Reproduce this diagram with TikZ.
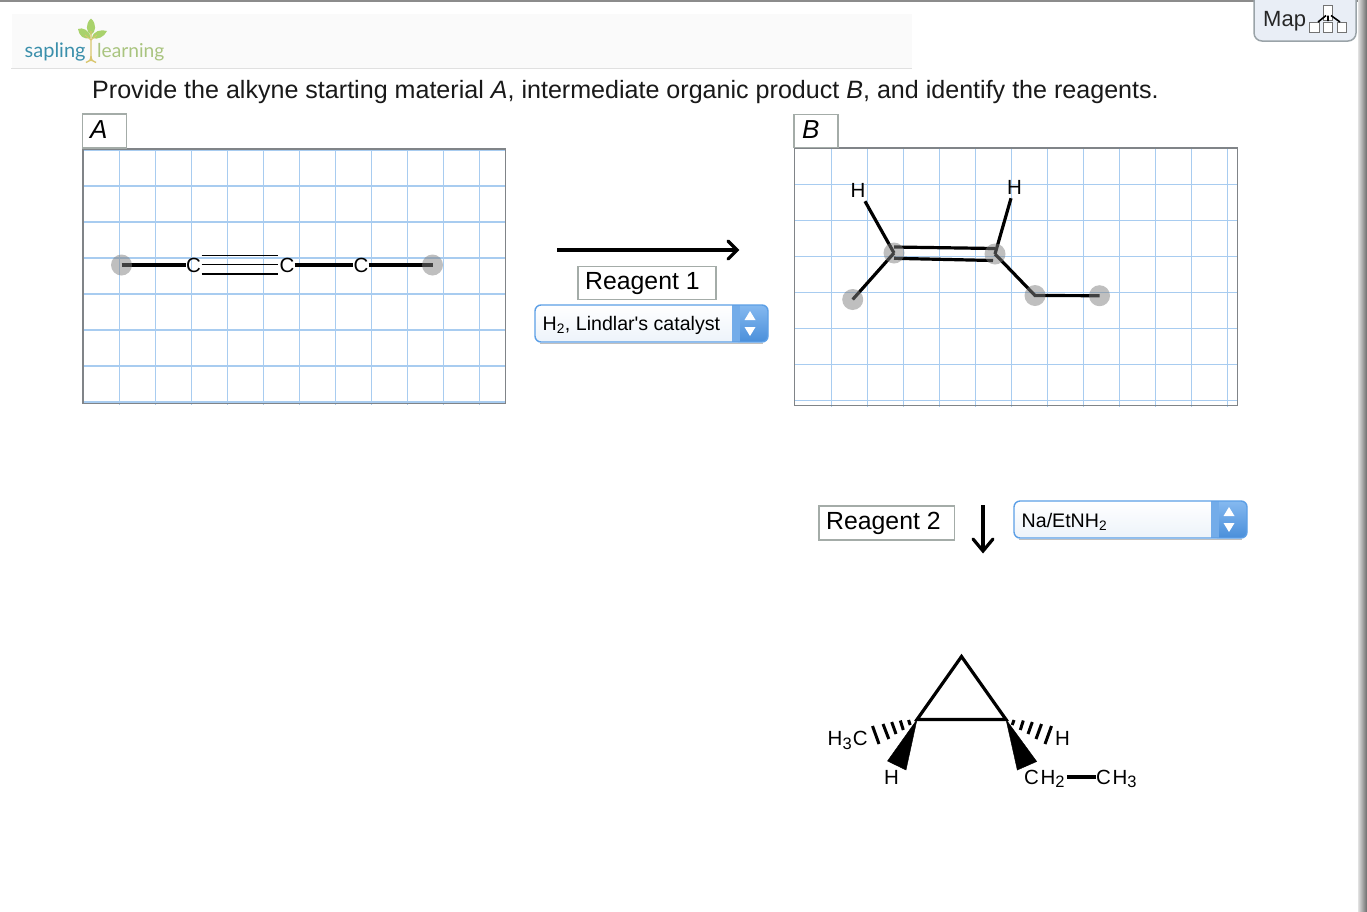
\documentclass[tikz,border=0pt]{standalone}
\usepackage{fontspec}
\setmainfont{Liberation Sans}
\newfontfamily\logofont{Lato}
\usetikzlibrary{calc}
\definecolor{gridblue}{HTML}{A8CCF0}
\definecolor{framegrey}{HTML}{808488}
\definecolor{tabedge}{HTML}{A4ACA8}
\definecolor{mapedge}{HTML}{9AA3A8}
\definecolor{mapfill}{HTML}{E9EEF6}
\definecolor{selblue}{HTML}{5C9FE6}
\definecolor{seldark}{HTML}{4A8FDA}
\definecolor{sellight}{HTML}{85B9F0}
\definecolor{selpale}{HTML}{EDF3FA}
\definecolor{logoteal}{HTML}{3A8FAB}
\definecolor{logogreen}{HTML}{A9C47F}
\definecolor{leaf}{HTML}{A9D26C}
\definecolor{trunk}{HTML}{D9C66E}
\tikzset{
  gridline/.style={gridblue,line width=1.5pt},
  frame/.style={framegrey,line width=1.5pt},
  bondline/.style={black,line width=3.2pt},
  thinbond/.style={black,line width=1.4pt},
  atomdot/.style={circle,fill=black!50,fill opacity=0.5,draw=none,minimum size=21pt,inner sep=0pt},
  atomlabel/.style={font=\fontsize{20.5}{24}\selectfont,inner sep=0pt,text=black},
  chemtext/.style={font=\fontsize{20.5}{24}\selectfont,inner sep=0pt,anchor=base west,text=black},
  tabbox/.style={draw=tabedge,line width=1.9pt,fill=white,inner sep=0pt,outer sep=0pt,anchor=north west},
  tabtext/.style={font=\fontsize{24.8}{30}\selectfont,inner sep=0pt,anchor=base west,text=black},
  seltext/.style={font=\fontsize{19.6}{24}\selectfont,inner sep=0pt,anchor=base west,text=black},
  wedge/.style={fill=black,draw=black,line width=0.4pt},
  hash/.style={black,line width=3pt},
  chevron/.style={black,line width=3.2pt,line cap=round,line join=miter},
}
\newcommand{\chemsub}[1]{\raisebox{-3.5pt}{\fontsize{16.5}{16}\selectfont #1}}
\newcommand{\selectbox}[5]{% x1,y1,x2,y2,sep
  \shade[top color=white,bottom color=selpale,rounded corners=6pt] (#1,#2) rectangle (#3,#4);
  \shade[top color=sellight,bottom color=seldark,rounded corners=6pt] (#5,#2) rectangle (#3,#4);
  \fill[sellight!70!seldark] (#5,#2) rectangle (#5+8,#4);
  \draw[black!25,line width=1pt] (#1+5,#4+1.4) -- (#3-5,#4+1.4);
  \draw[selblue,line width=1.4pt,rounded corners=6pt] (#1,#2) rectangle (#3,#4);
  \fill[white] ({(#5+#3)/2},{(#2+#4)/2-12.5}) -- ++(5.5,9) -- ++(-11,0) -- cycle;
  \fill[white] ({(#5+#3)/2},{(#2+#4)/2+12.5}) -- ++(5.5,-9) -- ++(-11,0) -- cycle;
}
\begin{document}
\begin{tikzpicture}[x=1pt,y=-1pt]
\useasboundingbox (0,0) rectangle (1367,911);
\fill[white] (0,0) rectangle (1367,911);
% window chrome
\fill[black!45] (0,0) rectangle (1367,1.6);
\shade[left color=black!12,right color=black!58] (1358,0) rectangle (1367,911);
% logo band
\fill[black!2] (12,14) rectangle (912,68);
\draw[black!12,line width=1.6pt] (11,68.5) -- (912,68.5);
\node[font=\logofont\fontsize{20}{22}\selectfont,text=logoteal,inner sep=0pt,anchor=base west] (logoa) at (24.5,57) {sapling};
\node[font=\logofont\fontsize{19.2}{22}\selectfont,text=logogreen,inner sep=0pt,anchor=base west] (logob) at (97,57) {learning};
\fill[leaf] (91,18.5) .. controls (85,24) and (86,32) .. (91,35) .. controls (96,32) and (97,24) .. (91,18.5);
\fill[leaf] (78,29) .. controls (82,27) and (90,30) .. (90.5,38) .. controls (84,40) and (79,36) .. (78,29);
\fill[leaf] (107,31) .. controls (101,29) and (93,31) .. (92,38) .. controls (98,40) and (104,37) .. (107,31);
\draw[trunk,line width=1.4pt] (91,31) -- (91,61) (86,62.5) .. controls (89,62) and (91,60) .. (91,56) .. controls (91,60) and (93,62) .. (96,62.5);
\draw[trunk,line width=0.9pt] (85,35) -- (91,40) -- (97,35);
% map tab
\draw[mapedge,line width=1.5pt,fill=mapfill,rounded corners=8pt] (1254,-8) -- (1254,41) -- (1356,41) -- (1356,-8);
\node[font=\fontsize{22}{26}\selectfont,inner sep=0pt,anchor=base west,text=black!85] (maptext) at (1263,26) {Map};
\draw[black!55,line width=0.9pt,fill=white] (1323,5) rectangle (1332.5,20);
\draw[black!55,line width=0.9pt,fill=white] (1309,22.5) rectangle (1319,32.3);
\draw[black!55,line width=0.9pt,fill=white] (1323,22.5) rectangle (1332.5,32.3);
\draw[black!55,line width=0.9pt,fill=white] (1337,22.5) rectangle (1346,32.3);
\draw[black,line width=1.6pt] (1318,22) -- (1326,15.5) (1328,15.5) -- (1328,21) (1331,15.5) -- (1340,22);
% question
\node[font=\fontsize{25.08}{30}\selectfont,inner sep=0pt,anchor=base west,text=black!90] (question) at (92,98) {Provide the alkyne starting material \textit{A}, intermediate organic product \textit{B}, and identify the reagents.};
% panel A
\foreach \px in {119.7,155.7,...,480} \draw[gridline] (\px,149) -- (\px,404.5);
\foreach \py in {150.5,186,222,258,294,330,366,402} \draw[gridline] (83,\py) -- (505,\py);
\draw[frame] (83,149) rectangle (505.5,403.5);
\node[tabbox,minimum width=44pt,minimum height=34pt] (taba) at (82.5,114) {};
\node[font=\itshape\fontsize{26}{30}\selectfont,inner sep=0pt,anchor=base west] (labela) at (90,138) {A};
\coordinate (a1) at (121.5,265);
\coordinate (a5) at (432.5,265);
\node[atomlabel] (a2) at (193.5,265) {C};
\node[atomlabel] (a3) at (287,265) {C};
\node[atomlabel] (a4) at (361,265) {C};
\draw[bondline] (a1) -- (a2.west);
\draw[bondline] (a3.east) -- (a4.west);
\draw[bondline] (a4.east) -- (a5);
\draw[thinbond] ($(a2.east)+(0.5,-9.5)$) -- ($(a3.west)+(-1.5,-9.5)$);
\draw[thinbond] ($(a2.east)+(0.5,-0.3)$) -- ($(a3.west)+(-1.5,-0.3)$);
\draw[thinbond] ($(a2.east)+(0.5,8.8)$) -- ($(a3.west)+(-1.5,8.8)$);
\node[atomdot] (a1dot) at (a1) {};
\node[atomdot] (a5dot) at (a5) {};
% panel B
\foreach \px in {831.3,867.3,...,1228} \draw[gridline] (\px,148) -- (\px,406.5);
\foreach \py in {148.5,184.3,220.3,256.3,292.3,328.3,364.3,400.5} \draw[gridline] (795,\py) -- (1237,\py);
\draw[frame] (794.7,148) rectangle (1237.3,405.5);
\node[tabbox,minimum width=44pt,minimum height=33pt] (tabb) at (794,114.5) {};
\node[font=\itshape\fontsize{26}{30}\selectfont,inner sep=0pt,anchor=base west] (labelb) at (802,138) {B};
\coordinate (b1) at (852.7,299.5);
\coordinate (b2) at (894,253);
\coordinate (b3) at (995,254);
\coordinate (b4) at (1035,295.5);
\coordinate (b5) at (1099.5,295.7);
\node[atomlabel] (h1) at (858,190) {H};
\node[atomlabel] (h2) at (1014.5,187) {H};
\draw[bondline] ($(h1.south)+(7,4)$) -- (b2);
\draw[bondline] ($(h2.south)+(-3.5,4)$) -- (b3);
\draw[bondline] (b1) -- (b2);
\draw[bondline] ($(b2)+(0,-6)$) -- ($(b3)+(0,-5.5)$);
\draw[bondline] ($(b2)+(0,5.3)$) -- ($(b3)+(-2,6.5)$);
\draw[bondline] (b3) -- (b4) -- (b5);
\foreach \d in {b1,b2,b3,b4,b5} \node[atomdot] (\d dot) at (\d) {};
% reaction arrow 1
\coordinate (r1s) at (557,250);
\coordinate (r1e) at (737,250);
\draw[chevron,line cap=butt] (r1s) -- (r1e);
\draw[chevron] ($(r1e)+(-9,-9)$) -- (r1e) -- ($(r1e)+(-9,9)$);
\node[tabbox,minimum width=138pt,minimum height=33pt] (reag1) at (578,266.5) {};
\node[tabtext] (reag1t) at (585,289.7) {Reagent 1};
\selectbox{535}{305}{768}{342}{732}
\node[seltext] (sel1t) at (542.5,330.5) {H\textsubscript{2}, Lindlar\textquotesingle s catalyst};
% reagent 2
\node[tabbox,minimum width=135.5pt,minimum height=34pt] (reag2) at (819,505.8) {};
\node[tabtext] (reag2t) at (826,529.7) {Reagent 2};
\coordinate (r2s) at (983,505);
\coordinate (r2e) at (983,551);
\draw[chevron,line cap=butt] (r2s) -- (r2e);
\draw[chevron] ($(r2e)+(-10,-12)$) -- (r2e) -- ($(r2e)+(10,-12)$);
\selectbox{1014}{501}{1247}{538}{1211}
\node[seltext] (sel2t) at (1021.5,527) {Na/EtNH\textsubscript{2}};
% cyclopropane
\coordinate (ca) at (961.5,656.5);
\coordinate (cl) at (917,719.5);
\coordinate (cr) at (1006,719.5);
\draw[bondline,line join=miter] (ca) -- (cl) -- (cr) -- cycle;
\fill[wedge] (cl) -- (887.5,761) -- (906,770) -- cycle;
\fill[wedge] (cr) -- (1017.3,770) -- (1036.7,761.5) -- cycle;
\draw[hash] (908.5,720) -- (910.2,725);
\draw[hash] (900.3,720.5) -- (903.3,730);
\draw[hash] (891.7,722) -- (896,734);
\draw[hash] (883,724) -- (888.8,739);
\draw[hash] (872.5,726) -- (879,744);
\draw[hash] (1014,720) -- (1012.2,725);
\draw[hash] (1023.3,720.5) -- (1020.3,730);
\draw[hash] (1032.3,722) -- (1028,734);
\draw[hash] (1041.5,724) -- (1036,739);
\draw[hash] (1051.5,726) -- (1045,744);
\node[chemtext] (me) at (827.5,745.5) {H\chemsub{3}\kern1.2pt C};
\node[chemtext] (hb) at (884,784) {H};
\node[chemtext] (hc) at (1055,745.5) {H};
\node[chemtext] (ch2) at (1024,784) {C\kern1.6pt H\chemsub{2}};
\node[chemtext] (ch3) at (1096,784) {C\kern1.6pt H\chemsub{3}};
\draw[bondline] ($(ch2.east |- 0,777)+(2,0)$) -- (ch3.west |- 0,777);
\end{tikzpicture}
\end{document}
